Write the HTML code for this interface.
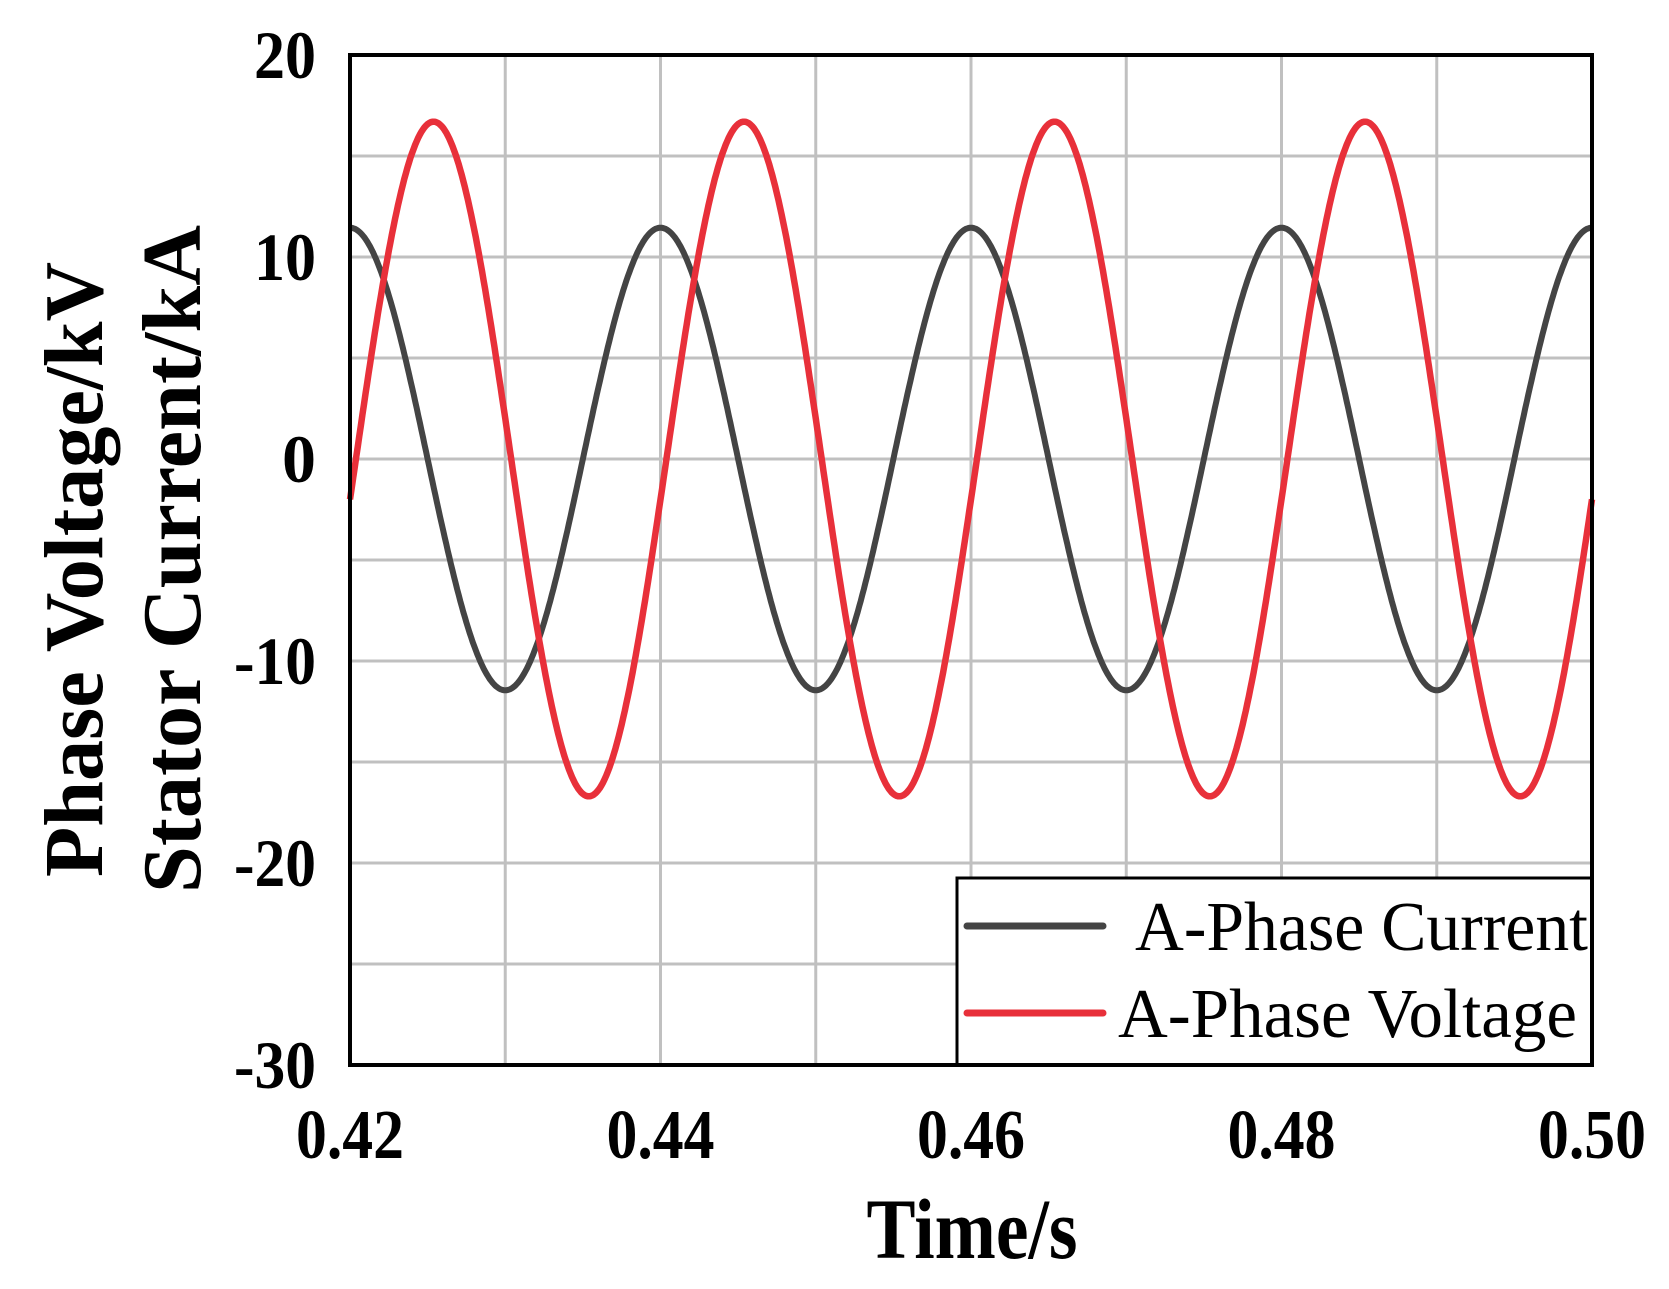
<!DOCTYPE html>
<html><head><meta charset="utf-8"><style>
html,body{margin:0;padding:0;background:#fff;}
svg{display:block;}
text{font-family:"Liberation Serif",serif;}
</style></head><body>
<svg id="s" width="1669" height="1289" viewBox="0 0 1669 1289" xmlns="http://www.w3.org/2000/svg">
<g id="grid" stroke="#c0c0c0" stroke-width="3"></g>
<path id="cur" fill="none" stroke="#444444" stroke-width="6" stroke-linejoin="round"/>
<path id="vol" fill="none" stroke="#e8303a" stroke-width="6.5" stroke-linejoin="round"/>
<rect x="957" y="878" width="635" height="187" fill="#fff" stroke="#000" stroke-width="3"/>
<line x1="967" y1="926" x2="1103" y2="926" stroke="#444" stroke-width="7" stroke-linecap="round"/>
<line x1="967" y1="1013" x2="1103" y2="1013" stroke="#e8303a" stroke-width="7" stroke-linecap="round"/>
<text x="1135" y="950" font-size="70" textLength="453" lengthAdjust="spacingAndGlyphs">A-Phase Current</text>
<text x="1118" y="1037" font-size="70" textLength="459" lengthAdjust="spacingAndGlyphs">A-Phase Voltage</text>
<rect x="350" y="55" width="1242" height="1010" fill="none" stroke="#000" stroke-width="4"/>
<g font-weight="bold" font-size="68" text-anchor="end" id="yt"></g>
<g font-weight="bold" font-size="70" text-anchor="middle" id="xt"></g>
<text x="972" y="1258" font-weight="bold" font-size="86" text-anchor="middle" textLength="211" lengthAdjust="spacingAndGlyphs">Time/s</text>
<text transform="translate(102,877) rotate(-90)" font-weight="bold" font-size="84" textLength="615" lengthAdjust="spacingAndGlyphs">Phase Voltage/kV</text>
<text transform="translate(200,893) rotate(-90)" font-weight="bold" font-size="84" textLength="668" lengthAdjust="spacingAndGlyphs">Stator Current/kA</text>
</svg>
<script>
var L=350,R=1592,T=55,B=1065;
function X(t){return L+(t-0.42)/0.08*(R-L);}
function Y(v){return T+(20-v)/50*(B-T);}
var g=document.getElementById('grid'),s='';
for(var i=1;i<8;i++){var x=X(0.42+i*0.01);s+='<line x1="'+x+'" y1="'+T+'" x2="'+x+'" y2="'+B+'"/>';}
for(var v=-25;v<20;v+=5){var y=Y(v);s+='<line x1="'+L+'" y1="'+y+'" x2="'+R+'" y2="'+y+'"/>';}
g.innerHTML=s;
var yt='';for(var v=20;v>=-30;v-=10){var tl=(v===0)?'':' textLength="'+(v<0?82:62)+'" lengthAdjust="spacingAndGlyphs"';yt+='<text x="316" y="'+(Y(v)+23)+'"'+tl+'>'+v+'</text>';}
document.getElementById('yt').innerHTML=yt;
var xt='';['0.42','0.44','0.46','0.48','0.50'].forEach(function(l,i){xt+='<text x="'+X(0.42+i*0.02)+'" y="1158" textLength="108" lengthAdjust="spacingAndGlyphs">'+l+'</text>';});
document.getElementById('xt').innerHTML=xt;
var c='',p='';
for(var k=0;k<=800;k++){var t=0.42+k*0.0001,w=2*Math.PI*50*(t-0.42);
c+=(k?'L':'M')+X(t).toFixed(1)+' '+Y(11.45*Math.cos(w)).toFixed(1);
p+=(k?'L':'M')+X(t).toFixed(1)+' '+Y(16.7*Math.sin(w-0.12)).toFixed(1);}
document.getElementById('cur').setAttribute('d',c);
document.getElementById('vol').setAttribute('d',p);
</script>
</body></html>
